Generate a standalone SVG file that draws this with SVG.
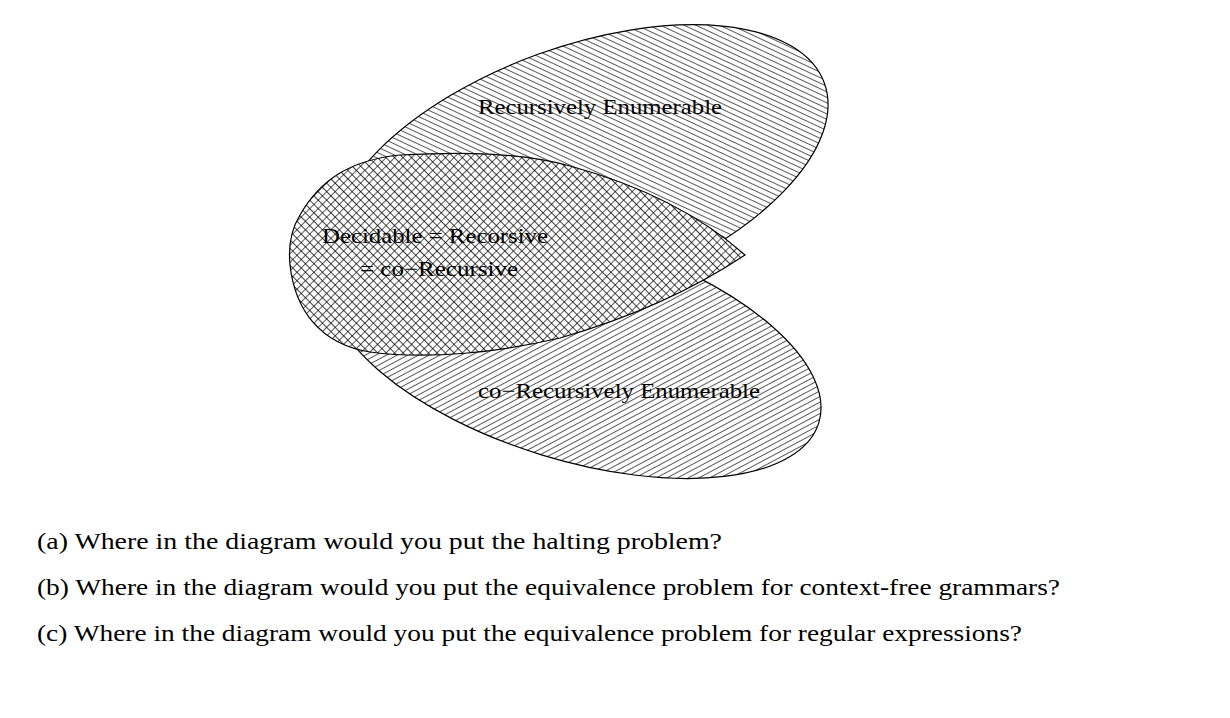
<svg xmlns="http://www.w3.org/2000/svg" width="1230" height="718" viewBox="0 0 1230 718">
<defs>
<pattern id="bs" width="5" height="5" patternUnits="userSpaceOnUse" patternTransform="rotate(-45)"><rect width="5" height="5" fill="#fff"/><line x1="0" y1="0" x2="0" y2="5" stroke="#000" stroke-width="1.3"/></pattern>
<pattern id="fs" width="5" height="5" patternUnits="userSpaceOnUse" patternTransform="rotate(45)"><rect width="5" height="5" fill="#fff"/><line x1="0" y1="0" x2="0" y2="5" stroke="#000" stroke-width="1.3"/></pattern>
<pattern id="cx" width="6" height="6" patternUnits="userSpaceOnUse" patternTransform="rotate(45)"><rect width="6" height="6" fill="#fff"/><path d="M0 0V6M0 0H6" stroke="#000" stroke-width="1.3"/></pattern>
<style>.o{stroke:#000;stroke-width:1.2}.t{font-family:"Liberation Serif",serif;fill:#000}.l{font-size:21px}.q{font-size:23.5px}</style>
</defs>
<g id="co-re"><ellipse class="o" cx="575" cy="348" rx="255" ry="112" transform="rotate(17 575 348)" fill="url(#fs)"/></g>
<g id="re"><ellipse class="o" cx="580" cy="172" rx="260" ry="125" transform="rotate(-20 580 172)" fill="url(#bs)"/></g>
<g id="decidable"><path class="o" fill="url(#cx)" d="M300 215 C320 180 350 160 400 155 C460 152 520 152 570 166 C640 185 700 215 745 255 C700 285 640 315 560 338 C500 352 430 360 370 352 C320 344 295 310 290 265 C288 245 292 228 300 215 Z"/></g>
<g id="labels" class="t l">
<text x="478" y="114" textLength="244" lengthAdjust="spacingAndGlyphs">Recursively Enumerable</text>
<text x="322" y="243" textLength="226" lengthAdjust="spacingAndGlyphs">Decidable = Recorsive</text>
<text x="360" y="276" textLength="158" lengthAdjust="spacingAndGlyphs">= co−Recursive</text>
<text x="478" y="398" textLength="282" lengthAdjust="spacingAndGlyphs">co−Recursively Enumerable</text>
</g>
<g id="questions" class="t q">
<text x="37" y="549" textLength="685" lengthAdjust="spacingAndGlyphs">(a)  Where in the diagram would you put the halting problem?</text>
<text x="37" y="595" textLength="1023" lengthAdjust="spacingAndGlyphs">(b)  Where in the diagram would you put the equivalence problem for context-free grammars?</text>
<text x="37" y="641" textLength="985" lengthAdjust="spacingAndGlyphs">(c)  Where in the diagram would you put the equivalence problem for regular expressions?</text>
</g>
</svg>
